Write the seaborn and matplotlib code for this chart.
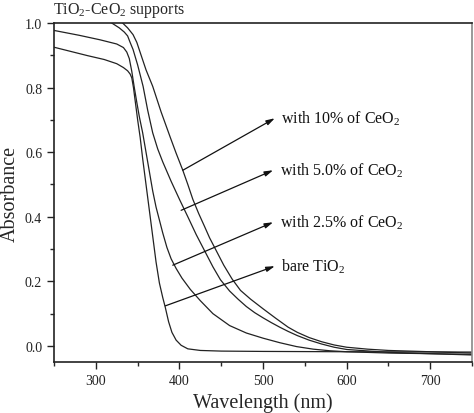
import numpy as np
import pandas as pd
import matplotlib
matplotlib.use('Agg')
import matplotlib.pyplot as plt
from matplotlib.ticker import MultipleLocator, FormatStrFormatter
import seaborn as sns

# values (wavelength in nm, absorbance)
bare_x = [250, 270, 290, 310, 325, 333, 338, 341, 343, 345, 347, 350, 353, 356, 360, 364, 368, 372, 376, 380,
          383, 387, 391, 396, 402, 410, 425, 450, 500, 600, 750]
bare_y = [0.925, 0.912, 0.899, 0.887, 0.874, 0.862, 0.852, 0.842, 0.83, 0.80, 0.76, 0.70, 0.646, 0.58, 0.50, 0.42,
          0.34, 0.26, 0.195, 0.15, 0.12, 0.075, 0.042, 0.018, 0.002, -0.009, -0.014, -0.016, -0.017, -0.018, -0.019]

ce25_x = [250, 280, 305, 325, 333, 337, 340, 343, 346, 349, 352, 356, 360, 364, 368, 372, 376, 380, 385, 390,
          396, 403, 413, 425, 440, 460, 480, 500, 520, 540, 560, 580, 600, 650, 750]
ce25_y = [0.977, 0.962, 0.948, 0.935, 0.924, 0.91, 0.89, 0.85, 0.80, 0.754, 0.71, 0.66, 0.60, 0.54, 0.48, 0.43,
          0.39, 0.35, 0.305, 0.27, 0.24, 0.21, 0.175, 0.14, 0.10, 0.063, 0.04, 0.024, 0.01, -0.002, -0.01, -0.015,
          -0.018, -0.022, -0.026]

ce50_x = [250, 300, 319, 328, 334, 338, 341, 344.5, 350, 356.5, 362, 368, 374, 380, 390, 400, 410, 420, 431, 440,
          449, 460, 470, 480, 490, 500, 510, 520, 530, 541, 555, 570, 585, 600, 650, 750]
ce50_y = [1.06, 1.03, 1.0, 0.985, 0.972, 0.96, 0.94, 0.918, 0.87, 0.804, 0.73, 0.66, 0.61, 0.57, 0.51, 0.454,
          0.40, 0.345, 0.29, 0.245, 0.205, 0.17, 0.145, 0.122, 0.103, 0.087, 0.072, 0.058, 0.045, 0.032, 0.018,
          0.006, -0.004, -0.011, -0.02, -0.028]

ce10_x = [250, 300, 325, 332, 338, 344.5, 349, 353, 360, 368, 378, 389, 396, 404, 410, 416, 423, 430, 436, 443,
          453, 463, 473, 485, 500, 515, 530, 541, 555, 570, 585, 600, 625, 650, 750]
ce10_y = [1.1, 1.05, 1.015, 1.0, 0.985, 0.964, 0.94, 0.909, 0.855, 0.804, 0.725, 0.646, 0.597, 0.544, 0.50, 0.454,
          0.41, 0.37, 0.335, 0.30, 0.25, 0.207, 0.172, 0.145, 0.115, 0.086, 0.058, 0.042, 0.026, 0.013, 0.003,
          -0.004, -0.01, -0.014, -0.022]

labels = ['with 10% of CeO$_2$', 'with 5.0% of CeO$_2$', 'with 2.5% of CeO$_2$', 'bare TiO$_2$']
arrow_start = [(404, 0.544), (402, 0.42), (392, 0.25), (383, 0.124)]
arrow_end = [(514, 0.705), (512, 0.544), (512, 0.383), (514, 0.247)]

sns.set_style('ticks')
plt.rcParams['font.family'] = ['Liberation Serif', 'DejaVu Serif']
plt.rcParams['mathtext.fontset'] = 'custom'
plt.rcParams['mathtext.rm'] = 'Liberation Serif'
plt.rcParams['mathtext.it'] = 'Liberation Serif:italic'

fig = plt.figure(figsize=(4.74, 4.14), dpi=100)
ax = fig.add_axes([0.114, 0.123, 0.882, 0.819])

# four spectra
for xs, ys in [(bare_x, bare_y), (ce25_x, ce25_y), (ce50_x, ce50_y), (ce10_x, ce10_y)]:
    df = pd.DataFrame({'wl': xs, 'abs': ys})
    sns.lineplot(data=df, x='wl', y='abs', ax=ax, color='#222222', linewidth=0.9,
                 estimator=None, sort=False)

# arrows + labels
for lab, s, e in zip(labels, arrow_start, arrow_end):
    ax.annotate('', xy=e, xytext=s,
                arrowprops=dict(arrowstyle='-|>,head_length=0.5,head_width=0.15',
                                color='#111111', lw=0.9, shrinkA=0, shrinkB=0))
    ax.text(e[0] + 8, e[1], lab, fontsize=11.5, va='center', ha='left', color='#111111')

ax.set_xlim(250, 750)
ax.set_ylim(-0.05, 1.0)
ax.xaxis.set_major_locator(MultipleLocator(100))
ax.xaxis.set_minor_locator(MultipleLocator(50))
ax.yaxis.set_major_locator(MultipleLocator(0.2))
ax.yaxis.set_minor_locator(MultipleLocator(0.1))
ax.yaxis.set_major_formatter(FormatStrFormatter('%.1f'))
ax.tick_params(which='major', direction='out', length=5, width=1.0, labelsize=10, colors='#222222')
ax.tick_params(which='minor', direction='out', length=3, width=1.0)
ax.tick_params(top=False, right=False)

for side in ['left', 'bottom', 'top']:
    ax.spines[side].set_linewidth(1.2)
    ax.spines[side].set_color('#222222')
ax.spines['right'].set_linewidth(1.2)
ax.spines['right'].set_color('#888888')

ax.set_xlabel('Wavelength (nm)', fontsize=14.5)
ax.set_ylabel('Absorbance', fontsize=14.5, labelpad=4)
fig.text(0.112, 0.975, 'TiO$_2$-CeO$_2$ supports', fontsize=11.5, va='center', ha='left')

fig.savefig('out.png', dpi=100)
